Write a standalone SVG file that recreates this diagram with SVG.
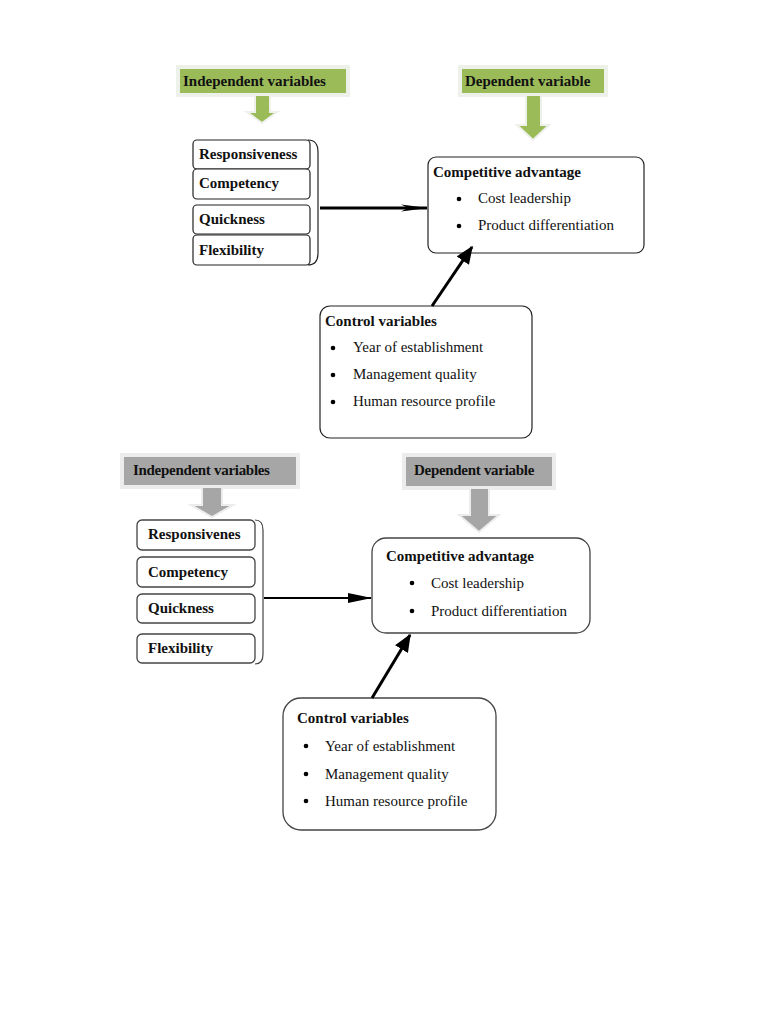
<svg xmlns="http://www.w3.org/2000/svg" width="768" height="1024" viewBox="0 0 768 1024">
<defs>
<style>
text{font-family:"Liberation Serif","Times New Roman",serif;font-size:15px;fill:#111}
.b{font-weight:bold}
.lbl{font-weight:bold;font-size:15px}
.box{fill:#fff;stroke:#222;stroke-width:1.2}
.box2{fill:#fff;stroke:#444;stroke-width:1.3}
.green{fill:#9bbb59;stroke:#eef0ea;stroke-width:4}
.gray{fill:#a6a6a6;stroke:#ececec;stroke-width:4}
.conn{stroke:#000;stroke-width:3;fill:none}
.conn2{stroke:#000;stroke-width:2;fill:none}
.dot{fill:#000}
</style>
<marker id="ah" viewBox="0 0 12 10" refX="11" refY="5" markerWidth="6" markerHeight="5" orient="auto" markerUnits="strokeWidth">
<path d="M0,0 L12,5 L0,10 z" fill="#000"/>
</marker>
<marker id="ahh" viewBox="0 0 30 10" refX="29" refY="5" markerWidth="9" markerHeight="3" orient="auto" markerUnits="strokeWidth">
<path d="M0,1 L8,5 L0,9 L30,5 z" fill="#000"/>
</marker>
<marker id="ah2" viewBox="0 0 24 10" refX="23" refY="5" markerWidth="12" markerHeight="5" orient="auto" markerUnits="strokeWidth">
<path d="M0,0 L24,5 L0,10 z" fill="#000"/>
</marker>
</defs>
<rect width="768" height="1024" fill="#fff"/>

<!-- TOP DIAGRAM -->
<g id="top-independent-label">
<rect class="green" x="178" y="67" width="170" height="28"/>
<text class="lbl" x="183" y="86">Independent variables</text>
<path d="M255,95 L270,95 L270,112 L277,112 L262,123 L247,112 L255,112 z" fill="#9bbb59" stroke="#eef0ea" stroke-width="2"/>
</g>
<g id="top-dependent-label">
<rect class="green" x="460" y="67" width="146" height="28"/>
<text class="lbl" x="465" y="86">Dependent variable</text>
<path d="M526,95 L541,95 L541,125 L549,125 L533,140 L517,125 L526,125 z" fill="#9bbb59" stroke="#eef0ea" stroke-width="2"/>
</g>
<g id="top-independent-boxes">
<rect class="box" x="193" y="140" width="117" height="29" rx="4"/>
<text class="b" x="199" y="159">Responsiveness</text>
<rect class="box" x="193" y="169" width="117" height="30" rx="4"/>
<text class="b" x="199" y="188">Competency</text>
<rect class="box" x="193" y="205" width="117" height="29" rx="4"/>
<text class="b" x="199" y="224">Quickness</text>
<rect class="box" x="193" y="235" width="117" height="30" rx="4"/>
<text class="b" x="199" y="255">Flexibility</text>
<path d="M308,140 Q318,140 318,152 L318,253 Q318,265 308,265" fill="none" stroke="#222" stroke-width="1.2"/>
</g>
<g id="top-competitive">
<rect class="box" x="428" y="157" width="216" height="96" rx="8"/>
<text class="b" x="433" y="177">Competitive advantage</text>
<circle class="dot" cx="459" cy="199" r="2.3"/>
<text x="478" y="203">Cost leadership</text>
<circle class="dot" cx="459" cy="226" r="2.3"/>
<text x="478" y="230">Product differentiation</text>
</g>
<g id="top-control">
<rect class="box" x="320" y="306" width="212" height="132" rx="10"/>
<text class="b" x="325" y="326">Control variables</text>
<circle class="dot" cx="333" cy="348" r="2.3"/>
<text x="353" y="352">Year of establishment</text>
<circle class="dot" cx="333" cy="375" r="2.3"/>
<text x="353" y="379">Management quality</text>
<circle class="dot" cx="333" cy="402" r="2.3"/>
<text x="353" y="406">Human resource profile</text>
</g>

<!-- BOTTOM DIAGRAM -->
<g id="bottom-independent-label">
<rect class="gray" x="122" y="455" width="176" height="32"/>
<text class="lbl" x="133" y="475" style="letter-spacing:-0.3px">Independent variables</text>
<path d="M202,487 L222,487 L222,505 L233,505 L212,517 L191,505 L202,505 z" fill="#a6a6a6" stroke="#ececec" stroke-width="2"/>
</g>
<g id="bottom-dependent-label">
<rect class="gray" x="404" y="455" width="150" height="33"/>
<text class="lbl" x="414" y="475" style="letter-spacing:-0.3px">Dependent variable</text>
<path d="M470,488 L489,488 L489,515 L499,515 L479,532 L459,515 L470,515 z" fill="#a6a6a6" stroke="#ececec" stroke-width="2"/>
</g>
<g id="bottom-independent-boxes">
<rect class="box2" x="137" y="520" width="118" height="30" rx="5"/>
<text class="b" x="148" y="539">Responsivenes</text>
<rect class="box2" x="137" y="557" width="118" height="30" rx="5"/>
<text class="b" x="148" y="577">Competency</text>
<rect class="box2" x="137" y="594" width="118" height="29" rx="5"/>
<text class="b" x="148" y="613">Quickness</text>
<rect class="box2" x="137" y="634" width="118" height="29" rx="5"/>
<text class="b" x="148" y="653">Flexibility</text>
<path d="M255,520 Q263,520 263,530 L263,654 Q263,664 255,664" fill="none" stroke="#444" stroke-width="1.2"/>
</g>
<g id="bottom-competitive">
<rect class="box2" x="372" y="538" width="218" height="95" rx="14"/>
<text class="b" x="386" y="561">Competitive advantage</text>
<circle class="dot" cx="412" cy="583" r="2.3"/>
<text x="431" y="588">Cost leadership</text>
<circle class="dot" cx="412" cy="611" r="2.3"/>
<text x="431" y="616">Product differentiation</text>
</g>
<g id="bottom-control">
<rect class="box2" x="283" y="698" width="213" height="132" rx="18"/>
<text class="b" x="297" y="723">Control variables</text>
<circle class="dot" cx="306" cy="746" r="2.3"/>
<text x="325" y="751">Year of establishment</text>
<circle class="dot" cx="306" cy="774" r="2.3"/>
<text x="325" y="779">Management quality</text>
<circle class="dot" cx="306" cy="801" r="2.3"/>
<text x="325" y="806">Human resource profile</text>
</g>

<g id="connectors">
<line class="conn" x1="320" y1="208" x2="427" y2="208" marker-end="url(#ahh)"/>
<line class="conn" x1="432" y1="306" x2="472" y2="247" marker-end="url(#ah)"/>
<line class="conn2" x1="264" y1="598" x2="371" y2="598" marker-end="url(#ah2)"/>
<line class="conn" x1="372" y1="698" x2="410" y2="635" marker-end="url(#ah)"/>
</g>
</svg>
